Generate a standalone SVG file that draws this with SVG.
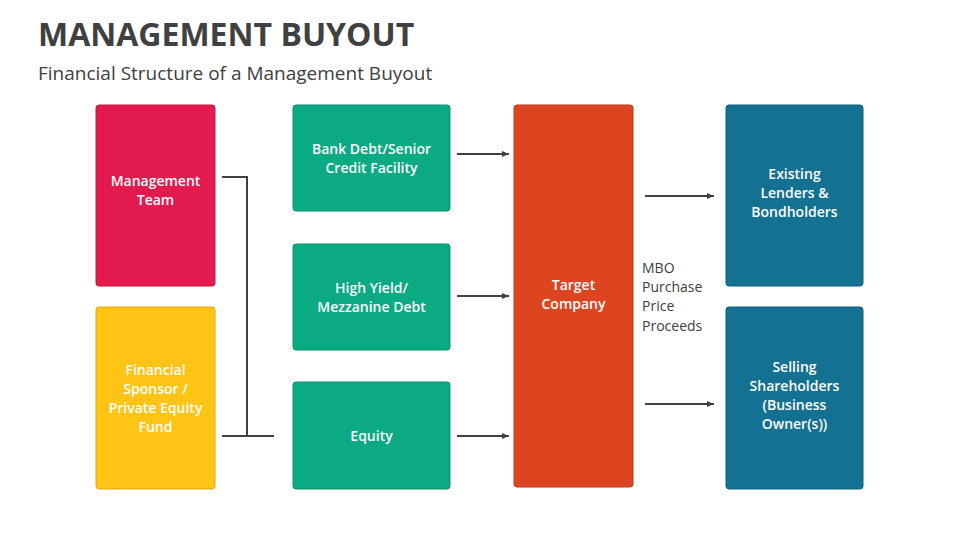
<svg xmlns="http://www.w3.org/2000/svg" width="960" height="540" viewBox="0 0 960 540">
<style>
.t{font-family:"Open Sans","Liberation Sans",sans-serif;}
.lbl{font-family:"Open Sans","Liberation Sans",sans-serif;font-size:14px;font-weight:600;fill:#fff;text-anchor:middle;}
.ln{stroke:#404040;stroke-width:2;fill:none;}
</style>
<defs><marker id="ah" markerWidth="8" markerHeight="8" refX="7" refY="4" orient="auto" markerUnits="userSpaceOnUse"><path d="M0,1 L7,4 L0,7 Z" fill="#404040"/></marker></defs>
<rect width="960" height="540" fill="#fff"/>
<text class="t" x="38" y="46" font-size="32" font-weight="700" fill="#404040">MANAGEMENT BUYOUT</text>
<text class="t" x="38" y="80" font-size="19" fill="#404040">Financial Structure of a Management Buyout</text>
<g id="management-team"><rect x="96" y="105" width="119" height="181" rx="3" fill="#E31A4E" stroke="#C4163F"/><text class="lbl" x="155.5" y="186">Management</text><text class="lbl" x="155.5" y="205">Team</text></g>
<g id="financial-sponsor"><rect x="96" y="307" width="119" height="182" rx="3" fill="#FFC414" stroke="#E0A810"/><text class="lbl" x="155.5" y="375">Financial</text><text class="lbl" x="155.5" y="394">Sponsor /</text><text class="lbl" x="155.5" y="413">Private Equity</text><text class="lbl" x="155.5" y="432">Fund</text></g>
<g id="bank-debt"><rect x="293" y="105" width="157" height="106" rx="3" fill="#0AAA82" stroke="#08906E"/><text class="lbl" x="371.5" y="154">Bank Debt/Senior</text><text class="lbl" x="371.5" y="173">Credit Facility</text></g>
<g id="high-yield"><rect x="293" y="244" width="157" height="106" rx="3" fill="#0AAA82" stroke="#08906E"/><text class="lbl" x="371.5" y="293">High Yield/</text><text class="lbl" x="371.5" y="312">Mezzanine Debt</text></g>
<g id="equity"><rect x="293" y="382" width="157" height="107" rx="3" fill="#0AAA82" stroke="#08906E"/><text class="lbl" x="371.5" y="441">Equity</text></g>
<g id="target"><rect x="514" y="105" width="119" height="382" rx="3" fill="#DD4521" stroke="#BE3A1B"/><text class="lbl" x="573.5" y="290">Target</text><text class="lbl" x="573.5" y="309">Company</text></g>
<g id="existing-lenders"><rect x="726" y="105" width="137" height="181" rx="3" fill="#137191" stroke="#0F5F7A"/><text class="lbl" x="794.5" y="179">Existing</text><text class="lbl" x="794.5" y="198">Lenders &amp;</text><text class="lbl" x="794.5" y="217">Bondholders</text></g>
<g id="selling-shareholders"><rect x="726" y="307" width="137" height="182" rx="3" fill="#137191" stroke="#0F5F7A"/><text class="lbl" x="794.5" y="372">Selling</text><text class="lbl" x="794.5" y="391">Shareholders</text><text class="lbl" x="794.5" y="410">(Business</text><text class="lbl" x="794.5" y="429">Owner(s))</text></g>
<g id="mbo-label" class="t" font-size="14" fill="#404040"><text x="642" y="273">MBO</text><text x="642" y="292">Purchase</text><text x="642" y="311">Price</text><text x="642" y="331">Proceeds</text></g>
<g id="connectors">
<path class="ln" d="M222,177 H247 V436"/>
<path class="ln" d="M222,436 H274"/>
<path class="ln" d="M457,154 H509" marker-end="url(#ah)"/>
<path class="ln" d="M457,296 H509" marker-end="url(#ah)"/>
<path class="ln" d="M457,436 H509" marker-end="url(#ah)"/>
<path class="ln" d="M645,196 H714" marker-end="url(#ah)"/>
<path class="ln" d="M645,404 H714" marker-end="url(#ah)"/>
</g>
</svg>
